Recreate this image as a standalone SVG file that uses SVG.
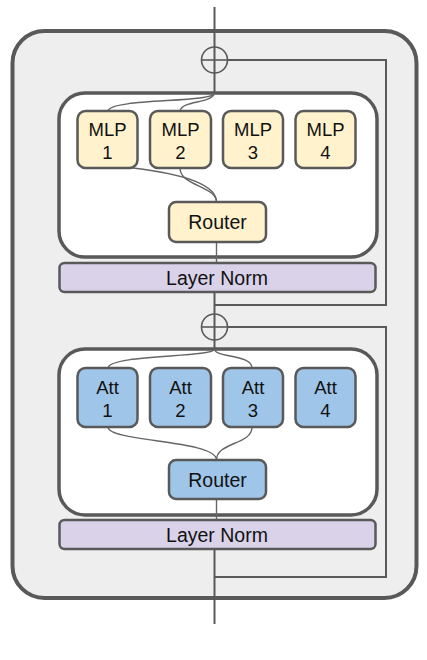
<svg xmlns="http://www.w3.org/2000/svg" width="427" height="660" viewBox="0 0 427 660">
<style>
.t{font-family:"Liberation Sans",Arial,sans-serif;fill:#111111;text-anchor:middle}
.f18{font-size:18.5px}
.f19{font-size:19.5px}
.mlp{fill:#fff2cc;stroke:#595959;stroke-width:2.5}
.att{fill:#9fc5e8;stroke:#595959;stroke-width:2.5}
.ln{fill:#d9d2e9;stroke:#595959;stroke-width:2.5}
.inner{fill:#ffffff;stroke:#595959;stroke-width:3.5}
.w{fill:none;stroke:#595959;stroke-width:2}
.c{fill:none;stroke:#666666;stroke-width:1.4}
</style>
<rect width="427" height="660" fill="#ffffff"/>
<g id="outer"><rect x="12.5" y="31" width="404" height="567" rx="32" fill="#eeeeee" stroke="#595959" stroke-width="4"/></g>
<g id="moe-mlp"><rect x="59" y="93" width="318" height="164" rx="26" class="inner"/></g>
<g id="moe-att"><rect x="59" y="349" width="318" height="166" rx="26" class="inner"/></g>
<g id="connectors">
<path class="w" d="M214.5,7 V93"/>
<path class="w" d="M227.5,60 H386 V305 H214.5"/>
<path class="w" d="M214.5,292 V349"/>
<path class="w" d="M227.5,327 H386 V577 H214.5"/>
<path class="w" d="M214.5,549 V624"/>
<path class="c" d="M216.5,242 V263"/>
<path class="c" d="M216.5,499 V520"/>
<path class="c" d="M214.5,93 C214.5,103 110,98 108,111"/>
<path class="c" d="M214.5,93 C212,104 182,100 180,111"/>
<path class="c" d="M133,168 C175,173 216.5,182 216.5,202"/>
<path class="c" d="M180,168 C180,186 216.5,186 216.5,202"/>
<path class="c" d="M214.5,349 C214.5,358 110,354 108,368"/>
<path class="c" d="M214.5,349 C214.5,358 252,354 252,368"/>
<path class="c" d="M108,427 C108,442 216.5,440 216.5,460"/>
<path class="c" d="M252,427 C252,445 216.5,442 216.5,460"/>
</g>
<g id="add1"><circle cx="214.5" cy="60" r="13" fill="none" stroke="#595959" stroke-width="1.6"/><path d="M201.5,60 H227.5" stroke="#595959" stroke-width="1.6"/></g>
<g id="add2"><circle cx="214.5" cy="327" r="13" fill="none" stroke="#595959" stroke-width="1.6"/><path d="M201.5,327 H227.5" stroke="#595959" stroke-width="1.6"/></g>
<g id="mlp1"><rect x="77.5" y="111" width="60" height="57" rx="8" class="mlp"/><text class="t f18" x="107.5" y="135.5">MLP</text><text class="t f18" x="107.5" y="158.5">1</text></g>
<g id="mlp2"><rect x="150" y="111" width="61" height="57" rx="8" class="mlp"/><text class="t f18" x="180.5" y="135.5">MLP</text><text class="t f18" x="180.5" y="158.5">2</text></g>
<g id="mlp3"><rect x="223" y="111" width="60" height="57" rx="8" class="mlp"/><text class="t f18" x="253" y="135.5">MLP</text><text class="t f18" x="253" y="158.5">3</text></g>
<g id="mlp4"><rect x="295.5" y="111" width="60" height="57" rx="8" class="mlp"/><text class="t f18" x="325.5" y="135.5">MLP</text><text class="t f18" x="325.5" y="158.5">4</text></g>
<g id="router1"><rect x="169" y="202" width="97" height="40" rx="7" class="mlp"/><text class="t f19" x="217.5" y="229">Router</text></g>
<g id="layernorm1"><rect x="59.5" y="263" width="316" height="29" rx="5" class="ln"/><text class="t f19" x="217" y="284.5">Layer Norm</text></g>
<g id="att1"><rect x="77.5" y="368" width="60" height="59" rx="8" class="att"/><text class="t f18" x="107.5" y="393.5">Att</text><text class="t f18" x="107.5" y="416.5">1</text></g>
<g id="att2"><rect x="150" y="368" width="61" height="59" rx="8" class="att"/><text class="t f18" x="180.5" y="393.5">Att</text><text class="t f18" x="180.5" y="416.5">2</text></g>
<g id="att3"><rect x="223" y="368" width="60" height="59" rx="8" class="att"/><text class="t f18" x="253" y="393.5">Att</text><text class="t f18" x="253" y="416.5">3</text></g>
<g id="att4"><rect x="295.5" y="368" width="60" height="59" rx="8" class="att"/><text class="t f18" x="325.5" y="393.5">Att</text><text class="t f18" x="325.5" y="416.5">4</text></g>
<g id="router2"><rect x="169" y="460" width="97" height="39" rx="7" class="att"/><text class="t f19" x="217.5" y="486.5">Router</text></g>
<g id="layernorm2"><rect x="59.5" y="520" width="316" height="29" rx="5" class="ln"/><text class="t f19" x="217" y="541.5">Layer Norm</text></g>
</svg>
